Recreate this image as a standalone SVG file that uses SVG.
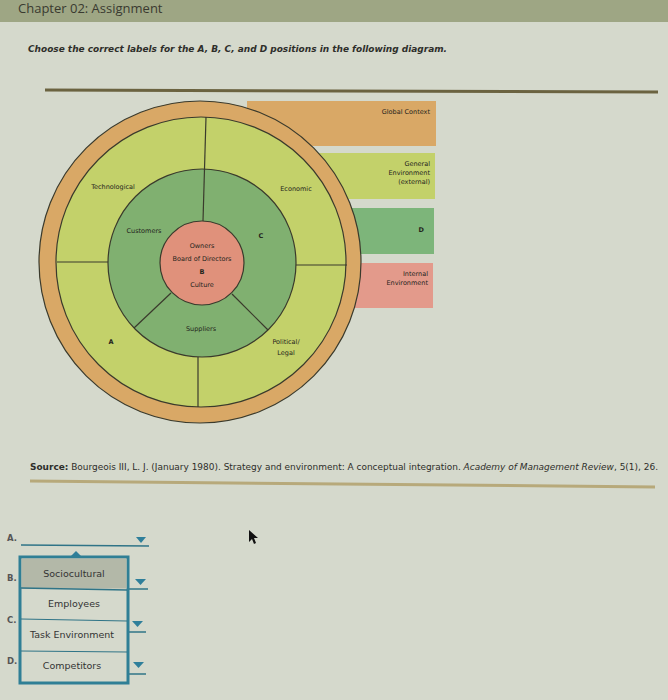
<svg xmlns="http://www.w3.org/2000/svg" width="668" height="700" viewBox="0 0 668 700">
<style>
.lbl{font-family:"DejaVu Sans",Verdana,sans-serif;font-size:6.5px;fill:#24241c;text-anchor:middle}
.lg{font-family:"DejaVu Sans",Verdana,sans-serif;font-size:6.5px;fill:#24241c;text-anchor:end}
.ln{stroke:#3a3a2c;stroke-width:1.2;fill:none}
.opt{font-family:"DejaVu Sans",Verdana,sans-serif;font-size:9.5px;fill:#333;text-anchor:middle}
.key{font-family:"DejaVu Sans",Verdana,sans-serif;font-size:8.5px;font-weight:bold;fill:#555}
.dd{stroke:#2f7487;stroke-width:1.5}
.tri{fill:#2f7f9a}
</style>
<rect x="0" y="0" width="668" height="700" fill="#d5d9cc"/>
<rect x="0" y="0" width="668" height="22" fill="#9ea684"/>
<text x="18" y="13" font-family="'Open Sans',sans-serif" font-size="13" fill="#3a3a30">Chapter 02: Assignment</text>
<text x="28" y="52" font-family="'DejaVu Sans',sans-serif" font-size="9.5" font-weight="bold" font-style="italic" fill="#2e2e2a" textLength="419" lengthAdjust="spacingAndGlyphs">Choose the correct labels for the A, B, C, and D positions in the following diagram.</text>
<line x1="45" y1="90" x2="658" y2="92" stroke="#6b6340" stroke-width="3"/>

<g id="legend">
<rect x="247" y="101" width="189" height="45" fill="#d9a866"/>
<text class="lg" x="430" y="114">Global Context</text>
<rect x="247" y="153" width="188" height="46" fill="#c3d16a"/>
<text class="lg" x="430" y="166">General</text>
<text class="lg" x="430" y="175">Environment</text>
<text class="lg" x="430" y="184">(external)</text>
<rect x="247" y="208" width="187" height="46" fill="#7db57a"/>
<text class="lg" x="424" y="232" font-weight="bold">D</text>
<rect x="247" y="263" width="186" height="45" fill="#e39a8b"/>
<text class="lg" x="428" y="276">Internal</text>
<text class="lg" x="428" y="285">Environment</text>
</g>

<g id="global-context">
<circle cx="200" cy="262" r="161" class="ln" style="fill:#d9a866"/>
</g>
<g id="general-environment">
<circle cx="201" cy="262" r="145" class="ln" style="fill:#c3d16a"/>
<text class="lbl" x="113" y="189">Technological</text>
<text class="lbl" x="296" y="191">Economic</text>
<text class="lbl" x="111" y="344" font-weight="bold">A</text>
<text class="lbl" x="286" y="344">Political/</text>
<text class="lbl" x="286" y="355">Legal</text>
</g>
<g id="task-environment">
<circle cx="202" cy="263" r="94" class="ln" style="fill:#80b070"/>
<text class="lbl" x="144" y="233">Customers</text>
<text class="lbl" x="261" y="238" font-weight="bold">C</text>
<text class="lbl" x="201" y="331">Suppliers</text>
</g>
<g id="connectors">
<line class="ln" x1="206" y1="117" x2="203" y2="221"/>
<line class="ln" x1="57" y1="262" x2="108" y2="262"/>
<line class="ln" x1="296" y1="265" x2="347" y2="265"/>
<line class="ln" x1="198" y1="357" x2="198" y2="407"/>
<line class="ln" x1="171" y1="293" x2="134" y2="328"/>
<line class="ln" x1="232" y1="294" x2="268" y2="330"/>
</g>
<g id="internal-environment">
<circle cx="202" cy="263" r="42" class="ln" style="fill:#e0917b"/>
<text class="lbl" x="202" y="248">Owners</text>
<text class="lbl" x="202" y="261">Board of Directors</text>
<text class="lbl" x="202" y="274" font-weight="bold">B</text>
<text class="lbl" x="202" y="287">Culture</text>
</g>

<text x="30" y="470" font-family="'DejaVu Sans',sans-serif" font-size="8" fill="#2e2e2a" textLength="628" lengthAdjust="spacingAndGlyphs"><tspan font-weight="bold">Source:</tspan> Bourgeois III, L. J. (January 1980). Strategy and environment: A conceptual integration. <tspan font-style="italic">Academy of Management Review</tspan>, 5(1), 26.</text>
<line x1="30" y1="481" x2="655" y2="487" stroke="#b7a97a" stroke-width="3"/>

<g id="answers">
<text class="key" x="7" y="541">A.</text>
<line class="dd" x1="21" y1="545" x2="149" y2="546"/>
<polygon class="tri" points="136,537 146,537 141,543"/>
<polygon class="tri" points="71,556 81,556 76,551"/>
<text class="key" x="7" y="581">B.</text>
<line class="dd" x1="128" y1="589" x2="148" y2="589"/>
<polygon class="tri" points="135,579 146,579 140.5,585"/>
<text class="key" x="7" y="623">C.</text>
<line class="dd" x1="126" y1="632" x2="146" y2="632"/>
<polygon class="tri" points="132,621 143,621 137.5,627"/>
<text class="key" x="7" y="664">D.</text>
<line class="dd" x1="126" y1="674" x2="146" y2="674"/>
<polygon class="tri" points="133,662 144,662 138.5,668"/>
</g>
<g id="popup">
<rect x="20" y="557" width="108" height="126" fill="#d5d9cc" stroke="#2f7f95" stroke-width="3"/>
<rect x="21.5" y="558.5" width="105" height="30" fill="#b3b8a8"/>
<line x1="21" y1="588" x2="127" y2="590" stroke="#2f7487" stroke-width="1.5"/>
<line x1="21" y1="619" x2="127" y2="621" stroke="#2f7487" stroke-width="1"/>
<line x1="21" y1="651" x2="127" y2="652" stroke="#2f7487" stroke-width="1"/>
<text class="opt" x="74" y="577">Sociocultural</text>
<text class="opt" x="74" y="607">Employees</text>
<text class="opt" x="72" y="638">Task Environment</text>
<text class="opt" x="72" y="669">Competitors</text>
</g>
<polygon points="249,530 249,542 252,539 254,544 256,543 254,538 258,538" fill="#111"/>
</svg>
